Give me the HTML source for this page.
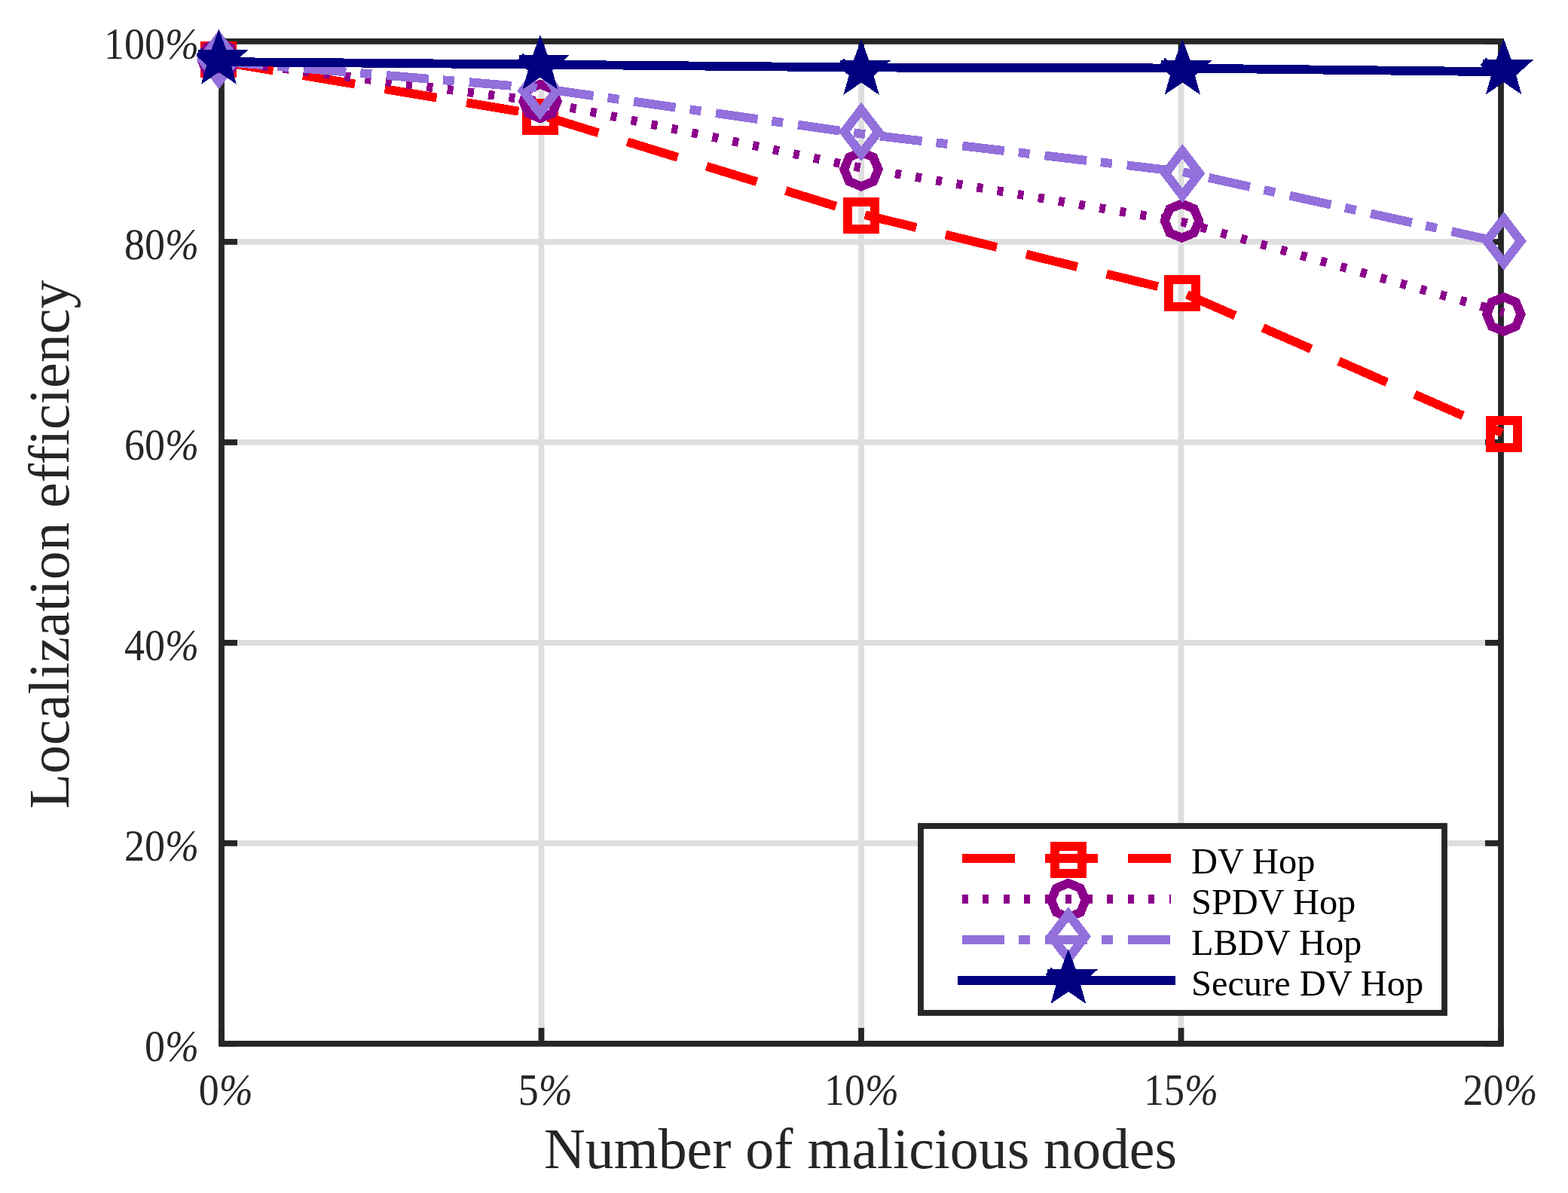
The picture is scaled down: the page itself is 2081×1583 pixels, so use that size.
<!DOCTYPE html><html><head><meta charset="utf-8"><title>Localization efficiency vs number of malicious nodes</title><style>html,body{margin:0;padding:0;background:#fff;overflow:hidden}svg{display:block}text{font-family:"Liberation Serif","Times New Roman",serif}</style></head><body>
<svg width="2081" height="1583" viewBox="0 0 2081 1583">
<rect width="2081" height="1583" fill="#fff"/>
<g stroke="#dedede" stroke-width="7.8"><line x1="718.5" y1="54.9" x2="718.5" y2="1384.9"/><line x1="1143.0" y1="54.9" x2="1143.0" y2="1384.9"/><line x1="1567.5" y1="54.9" x2="1567.5" y2="1384.9"/><line x1="294" y1="1118.90" x2="1992" y2="1118.90"/><line x1="294" y1="852.90" x2="1992" y2="852.90"/><line x1="294" y1="586.90" x2="1992" y2="586.90"/><line x1="294" y1="320.90" x2="1992" y2="320.90"/></g>
<g stroke="#262626" stroke-width="7.8"><line x1="294.0" y1="1384.9" x2="294.0" y2="1363.9"/><line x1="294.0" y1="54.9" x2="294.0" y2="75.9"/><line x1="718.5" y1="1384.9" x2="718.5" y2="1363.9"/><line x1="718.5" y1="54.9" x2="718.5" y2="75.9"/><line x1="1143.0" y1="1384.9" x2="1143.0" y2="1363.9"/><line x1="1143.0" y1="54.9" x2="1143.0" y2="75.9"/><line x1="1567.5" y1="1384.9" x2="1567.5" y2="1363.9"/><line x1="1567.5" y1="54.9" x2="1567.5" y2="75.9"/><line x1="1992.0" y1="1384.9" x2="1992.0" y2="1363.9"/><line x1="1992.0" y1="54.9" x2="1992.0" y2="75.9"/><line x1="294" y1="1384.90" x2="315" y2="1384.90"/><line x1="1992" y1="1384.90" x2="1971" y2="1384.90"/><line x1="294" y1="1118.90" x2="315" y2="1118.90"/><line x1="1992" y1="1118.90" x2="1971" y2="1118.90"/><line x1="294" y1="852.90" x2="315" y2="852.90"/><line x1="1992" y1="852.90" x2="1971" y2="852.90"/><line x1="294" y1="586.90" x2="315" y2="586.90"/><line x1="1992" y1="586.90" x2="1971" y2="586.90"/><line x1="294" y1="320.90" x2="315" y2="320.90"/><line x1="1992" y1="320.90" x2="1971" y2="320.90"/><line x1="294" y1="54.90" x2="315" y2="54.90"/><line x1="1992" y1="54.90" x2="1971" y2="54.90"/></g>
<rect x="294" y="54.9" width="1698" height="1330.0" fill="none" stroke="#262626" stroke-width="7.8" stroke-linecap="square"/>
<g shape-rendering="crispEdges">
<polyline points="290.00,81.30 717.00,152.50 1143.00,284.00 1569.00,388.00 1993.50,574.30" fill="none" stroke="#ff0000" stroke-width="11.8" stroke-dasharray="70 40.04" stroke-dashoffset="-3.56"/>
<rect x="272.00" y="61.00" width="36" height="36" fill="none" stroke="#ff0000" stroke-width="12"/><rect x="699.00" y="136.80" width="36" height="36" fill="none" stroke="#ff0000" stroke-width="12"/><rect x="1125.00" y="267.60" width="36" height="36" fill="none" stroke="#ff0000" stroke-width="12"/><rect x="1550.90" y="370.90" width="36" height="36" fill="none" stroke="#ff0000" stroke-width="12"/><rect x="1978.00" y="557.50" width="36" height="36" fill="none" stroke="#ff0000" stroke-width="12"/>
<polyline points="290.00,80.00 717.00,134.50 1143.00,222.70 1569.00,294.50 1996.00,414.80" fill="none" stroke="#8b008b" stroke-width="11.8" stroke-dasharray="8 19.5" stroke-dashoffset="-3.6"/>
<polygon points="290.00,56.30 306.05,62.95 312.70,79.00 306.05,95.05 290.00,101.70 273.95,95.05 267.30,79.00 273.95,62.95" fill="none" stroke="#8b008b" stroke-width="11.8"/><polygon points="717.00,111.80 733.05,118.45 739.70,134.50 733.05,150.55 717.00,157.20 700.95,150.55 694.30,134.50 700.95,118.45" fill="none" stroke="#8b008b" stroke-width="11.8"/><polygon points="1143.00,202.00 1159.05,208.65 1165.70,224.70 1159.05,240.75 1143.00,247.40 1126.95,240.75 1120.30,224.70 1126.95,208.65" fill="none" stroke="#8b008b" stroke-width="11.8"/><polygon points="1568.50,270.30 1584.55,276.95 1591.20,293.00 1584.55,309.05 1568.50,315.70 1552.45,309.05 1545.80,293.00 1552.45,276.95" fill="none" stroke="#8b008b" stroke-width="11.8"/><polygon points="1995.80,394.30 2011.85,400.95 2018.50,417.00 2011.85,433.05 1995.80,439.70 1979.75,433.05 1973.10,417.00 1979.75,400.95" fill="none" stroke="#8b008b" stroke-width="11.8"/>
<polyline points="290.50,81.40 717.00,117.00 1143.00,177.60 1569.00,228.00 1996.00,322.40" fill="none" stroke="#9370db" stroke-width="11.8" stroke-dasharray="56 19 15 20" stroke-dashoffset="-3.4"/>
<polygon points="290.50,49.70 313.00,79.00 290.50,108.30 268.00,79.00" fill="none" stroke="#9370db" stroke-width="12" stroke-miterlimit="10"/><polygon points="716.60,91.00 739.10,120.30 716.60,149.60 694.10,120.30" fill="none" stroke="#9370db" stroke-width="12" stroke-miterlimit="10"/><polygon points="1143.00,145.50 1165.50,174.80 1143.00,204.10 1120.50,174.80" fill="none" stroke="#9370db" stroke-width="12" stroke-miterlimit="10"/><polygon points="1569.30,200.80 1591.80,230.10 1569.30,259.40 1546.80,230.10" fill="none" stroke="#9370db" stroke-width="12" stroke-miterlimit="10"/><polygon points="1995.80,290.50 2018.30,319.80 1995.80,349.10 1973.30,319.80" fill="none" stroke="#9370db" stroke-width="12" stroke-miterlimit="10"/>
<polyline points="290.00,82.00 717.00,85.60 1143.00,89.50 1569.00,90.50 1996.00,95.30" fill="none" stroke="#000080" stroke-width="11.8"/>
<polygon points="290.40,38.79 300.41,66.13 329.45,66.13 306.72,86.66 313.83,111.80 290.40,95.77 266.97,111.80 274.08,86.66 261.66,74.85 260.56,73.54 260.56,71.84 262.56,70.34 262.56,66.13 265.87,66.13 266.57,64.03 268.37,64.03 269.87,66.13 280.39,66.13" fill="#000080"/><polygon points="716.90,46.00 726.86,73.19 755.74,73.19 733.13,93.61 740.20,118.60 716.90,102.67 693.60,118.60 700.67,93.61 688.32,81.85 687.22,80.56 687.22,78.87 689.21,77.37 689.21,73.19 692.50,73.19 693.20,71.10 694.99,71.10 696.48,73.19 706.94,73.19" fill="#000080"/><polygon points="1143.10,52.00 1153.24,79.67 1182.63,79.67 1159.62,100.45 1166.82,125.90 1143.10,109.68 1119.38,125.90 1126.58,100.45 1114.01,88.49 1112.89,87.17 1112.89,85.45 1114.92,83.93 1114.92,79.67 1118.26,79.67 1118.97,77.54 1120.80,77.54 1122.32,79.67 1132.96,79.67" fill="#000080"/><polygon points="1569.40,51.90 1579.54,79.57 1608.93,79.57 1585.92,100.35 1593.12,125.80 1569.40,109.58 1545.68,125.80 1552.88,100.35 1540.31,88.39 1539.19,87.07 1539.19,85.35 1541.22,83.83 1541.22,79.57 1544.56,79.57 1545.27,77.44 1547.10,77.44 1548.62,79.57 1559.26,79.57" fill="#000080"/><polygon points="1995.70,51.50 2005.84,79.17 2035.23,79.17 2012.22,99.95 2019.42,125.40 1995.70,109.18 1971.98,125.40 1979.18,99.95 1966.61,87.99 1965.49,86.67 1965.49,84.95 1967.52,83.43 1967.52,79.17 1970.86,79.17 1971.57,77.04 1973.40,77.04 1974.92,79.17 1985.56,79.17" fill="#000080"/>
</g>
<text transform="translate(299.75,1466) scale(1,1.09)" text-anchor="middle" font-size="54" fill="#262626">0<tspan font-style="italic">%</tspan></text><text transform="translate(723.85,1466) scale(1,1.09)" text-anchor="middle" font-size="54" fill="#262626">5<tspan font-style="italic">%</tspan></text><text transform="translate(1143.50,1466) scale(1,1.09)" text-anchor="middle" font-size="54" fill="#262626">10<tspan font-style="italic">%</tspan></text><text transform="translate(1567.50,1466) scale(1,1.09)" text-anchor="middle" font-size="54" fill="#262626">15<tspan font-style="italic">%</tspan></text><text transform="translate(1990.90,1466) scale(1,1.09)" text-anchor="middle" font-size="54" fill="#262626">20<tspan font-style="italic">%</tspan></text><text transform="translate(264,1407.90) scale(1,1.09)" text-anchor="end" font-size="54" fill="#262626">0<tspan font-style="italic">%</tspan></text><text transform="translate(264,1141.90) scale(1,1.09)" text-anchor="end" font-size="54" fill="#262626">20<tspan font-style="italic">%</tspan></text><text transform="translate(264,875.90) scale(1,1.09)" text-anchor="end" font-size="54" fill="#262626">40<tspan font-style="italic">%</tspan></text><text transform="translate(264,609.90) scale(1,1.09)" text-anchor="end" font-size="54" fill="#262626">60<tspan font-style="italic">%</tspan></text><text transform="translate(264,343.90) scale(1,1.09)" text-anchor="end" font-size="54" fill="#262626">80<tspan font-style="italic">%</tspan></text><text transform="translate(264,77.90) scale(1,1.09)" text-anchor="end" font-size="54" fill="#262626">100<tspan font-style="italic">%</tspan></text>
<text x="1142" y="1549.6" text-anchor="middle" font-size="75.8" fill="#262626">Number of malicious nodes</text>
<text transform="translate(90.7,722.3) rotate(-90)" text-anchor="middle" font-size="76.05" fill="#262626">Localization efficiency</text>
<rect x="1222" y="1096" width="695" height="248" fill="#fff" stroke="#262626" stroke-width="7.8"/>
<g shape-rendering="crispEdges">
<line x1="1277" y1="1138.9" x2="1553.5" y2="1138.9" stroke="#ff0000" stroke-width="11.8" stroke-dasharray="70 40.04"/>
<rect x="1399.90" y="1123.00" width="36" height="36" fill="none" stroke="#ff0000" stroke-width="12"/>
<line x1="1277" y1="1192.9" x2="1553.5" y2="1192.9" stroke="#8b008b" stroke-width="11.8" stroke-dasharray="8 19.46"/>
<polygon points="1417.90,1171.90 1433.95,1178.55 1440.60,1194.60 1433.95,1210.65 1417.90,1217.30 1401.85,1210.65 1395.20,1194.60 1401.85,1178.55" fill="none" stroke="#8b008b" stroke-width="11.8"/>
<line x1="1277" y1="1246.9" x2="1553.5" y2="1246.9" stroke="#9370db" stroke-width="11.8" stroke-dasharray="56 19 15 20"/>
<polygon points="1417.90,1213.20 1440.40,1242.50 1417.90,1271.80 1395.40,1242.50" fill="none" stroke="#9370db" stroke-width="12" stroke-miterlimit="10"/>
<line x1="1271" y1="1301" x2="1559.5" y2="1301" stroke="#000080" stroke-width="11.8"/>
<polygon points="1417.90,1259.11 1427.89,1286.37 1456.85,1286.37 1434.18,1306.84 1441.27,1331.90 1417.90,1315.93 1394.53,1331.90 1401.62,1306.84 1389.24,1295.05 1388.14,1293.76 1388.14,1292.06 1390.14,1290.56 1390.14,1286.37 1393.43,1286.37 1394.13,1284.27 1395.93,1284.27 1397.43,1286.37 1407.91,1286.37" fill="#000080"/>
</g>
<text x="1581" y="1159.2" font-size="48.4" fill="#000">DV Hop</text>
<text x="1581" y="1213.1" font-size="48.4" fill="#000">SPDV Hop</text>
<text x="1581" y="1267" font-size="48.4" fill="#000">LBDV Hop</text>
<text x="1581" y="1320.9" font-size="48.4" fill="#000">Secure DV Hop</text>
</svg></body></html>
